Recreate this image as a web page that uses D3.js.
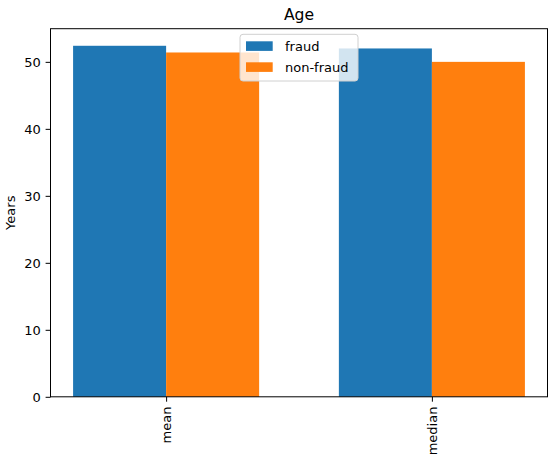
<!DOCTYPE html>
<html>
<head>
<meta charset="utf-8">
<script src="https://cdn.jsdelivr.net/npm/d3@7"></script>
<style>
  body { margin: 0; background: #fff; }
  text { font-family: "DejaVu Sans", sans-serif; fill: #000; }
</style>
</head>
<body>
<svg width="555" height="465"></svg>
<script>
var categories = ["mean", "median"];
var seriesNames = ["fraud", "non-fraud"];
var fraud = [52.4, 52.0];
var nonFraud = [51.4, 50.0];
var yTicks = [0, 10, 20, 30, 40, 50];
var colors = ["#1f77b4", "#ff7f0e"];

var values = [fraud, nonFraud];

var svg = d3.select("svg"),
    margin = {top: 28.7, right: 7.5, bottom: 68.2, left: 50.5},
    width = 555 - margin.left - margin.right,
    height = 465 - margin.top - margin.bottom,
    g = svg.append("g").attr("transform", "translate(" + margin.left + "," + margin.top + ")");

var barW = 0.35;
var x = d3.scaleLinear().domain([-0.435, 1.435]).range([0, width]),
    y = d3.scaleLinear().domain([0, 54.95]).range([height, 0]);

// bars
values.forEach(function(vals, s) {
  g.selectAll(".bar" + s)
    .data(vals)
    .enter().append("rect")
      .attr("x", function(d, i) { return x(i + (s - 1) * barW); })
      .attr("width", x(barW) - x(0))
      .attr("y", function(d) { return y(d); })
      .attr("height", function(d) { return y(0) - y(d); })
      .attr("fill", colors[s]);
});

// axes
var yAxis = g.append("g")
    .call(d3.axisLeft(y).tickValues(yTicks).tickSize(4.9).tickPadding(4.9).tickSizeOuter(0));
yAxis.select(".domain").remove();
yAxis.selectAll("text").style("font-size", "13px").attr("dy", "0.35em");

var xAxis = g.append("g")
    .attr("transform", "translate(0," + height + ")")
    .call(d3.axisBottom(x).tickValues([0, 1]).tickFormat(function(d) { return categories[d]; })
      .tickSize(4.9).tickSizeOuter(0));
xAxis.select(".domain").remove();
xAxis.selectAll("text")
    .style("font-size", "13px")
    .attr("text-anchor", "end")
    .attr("transform", "rotate(-90)")
    .attr("x", -9.8)
    .attr("y", 0)
    .attr("dy", "0.35em");

// frame
g.append("rect")
    .attr("width", width)
    .attr("height", height)
    .attr("fill", "none")
    .attr("stroke", "#000")
    .attr("stroke-width", 1);

// title and y label
svg.append("text")
    .attr("x", margin.left + width / 2)
    .attr("y", 19.5)
    .attr("text-anchor", "middle")
    .style("font-size", "15.6px")
    .text("Age");

svg.append("text")
    .attr("transform", "translate(15," + (margin.top + height / 2) + ") rotate(-90)")
    .attr("text-anchor", "middle")
    .style("font-size", "13px")
    .text("Years");

// legend
var legend = svg.append("g").attr("transform", "translate(240,34.3)");
legend.append("rect")
    .attr("width", 118)
    .attr("height", 46.7)
    .attr("rx", 3)
    .attr("fill", "#fff")
    .attr("fill-opacity", 0.8)
    .attr("stroke", "#d0d0d0")
    .attr("stroke-width", 1);

var item = legend.selectAll(".item")
    .data(seriesNames)
    .enter().append("g")
      .attr("transform", function(d, i) { return "translate(0," + (i * 21) + ")"; });

item.append("rect")
    .attr("x", 6)
    .attr("y", 7)
    .attr("width", 26.7)
    .attr("height", 9.6)
    .attr("fill", function(d, i) { return colors[i]; });

item.append("text")
    .attr("x", 45)
    .attr("y", 16.5)
    .style("font-size", "13px")
    .text(function(d) { return d; });
</script>
</body>
</html>
